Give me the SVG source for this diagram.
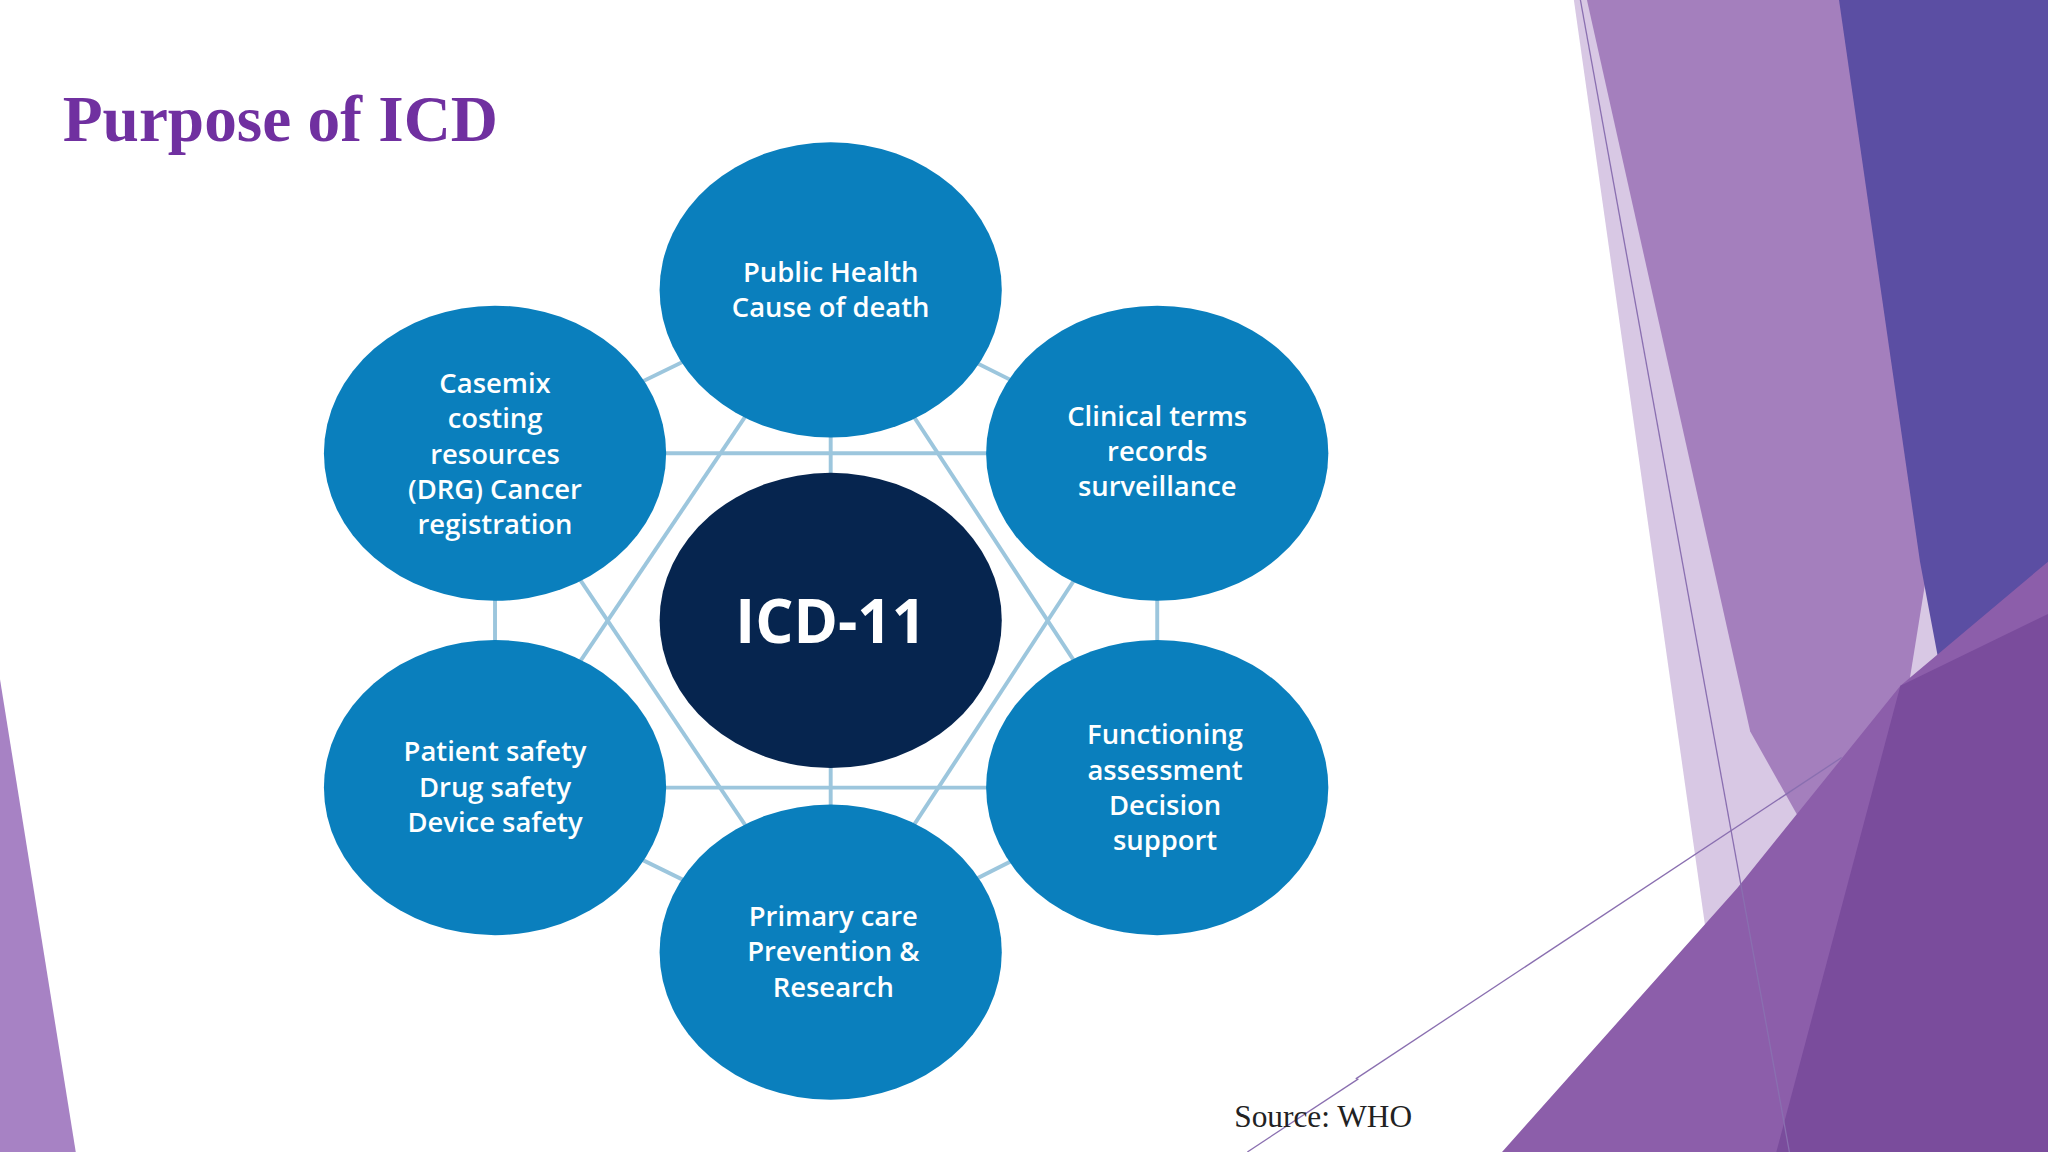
<svg xmlns="http://www.w3.org/2000/svg" width="2048" height="1152" viewBox="0 0 2048 1152">
<style>
.n{fill:#0a7fbd}
.t{font-family:"Open Sans","DejaVu Sans",sans-serif;font-size:21px;font-weight:600;fill:#fff;text-anchor:middle}
.c line{stroke:#9cc6dd;stroke-width:3}
</style>
<rect width="2048" height="1152" fill="#fff"/>
<g transform="scale(1.30612)">
<g id="bg">
<polygon points="1205,0 1568,0 1568,882 1330,882" fill="#d8c8e4"/>
<polygon points="1215,0 1410,0 1475,440 1430,720 1340,560" fill="#a47fbd"/>
<polygon points="1408,0 1568,0 1568,470 1500,590 1470,430" fill="#5b4ea3"/>
<polygon points="1150,882 1330,680 1455,525 1568,430 1568,882" fill="#8c5eaa"/>
<polygon points="1360,882 1455,525 1568,470 1568,882" fill="#7a4c9c"/>
<polygon points="0,520 0,882 58,882" fill="#a782c4"/>
<line x1="1210" y1="0" x2="1370" y2="882" stroke="#8a6fb0" stroke-width="1"/>
<line x1="1038" y1="826" x2="1410" y2="580" stroke="#8a6fb0" stroke-width="1"/>
<line x1="955" y1="882" x2="1040" y2="826" stroke="#8a6fb0" stroke-width="1"/>
</g>
<text x="48" y="108" font-family="Liberation Serif,serif" font-weight="bold" font-size="50" fill="#7030a0">Purpose of ICD</text>
<g class="c" id="connectors">
<line x1="636" y1="222" x2="379" y2="603"/>
<line x1="636" y1="222" x2="886" y2="603"/>
<line x1="379" y1="347" x2="636" y2="729"/>
<line x1="886" y1="347" x2="636" y2="729"/>
<line x1="379" y1="347" x2="886" y2="347"/>
<line x1="379" y1="603" x2="886" y2="603"/>
<line x1="636" y1="222" x2="379" y2="347"/>
<line x1="636" y1="222" x2="886" y2="347"/>
<line x1="379" y1="347" x2="379" y2="603"/>
<line x1="886" y1="347" x2="886" y2="603"/>
<line x1="636" y1="729" x2="379" y2="603"/>
<line x1="636" y1="729" x2="886" y2="603"/>
<line x1="636" y1="222" x2="636" y2="729"/>
</g>
<g id="center"><ellipse cx="636" cy="475" rx="131" ry="113" fill="#06254f"/><text x="636" y="492" font-family="Open Sans,DejaVu Sans,sans-serif" font-weight="bold" font-size="46" fill="#fff" text-anchor="middle">ICD-11</text></g>
<g id="top"><ellipse class="n" cx="636" cy="222" rx="131" ry="113"/><text class="t" x="636" y="216">Public Health</text><text class="t" x="636" y="243">Cause of death</text></g>
<g id="ul"><ellipse class="n" cx="379" cy="347" rx="131" ry="113"/><text class="t" x="379" y="301">Casemix</text><text class="t" x="379" y="328">costing</text><text class="t" x="379" y="355">resources</text><text class="t" x="379" y="382">(DRG) Cancer</text><text class="t" x="379" y="409">registration</text></g>
<g id="ur"><ellipse class="n" cx="886" cy="347" rx="131" ry="113"/><text class="t" x="886" y="326">Clinical terms</text><text class="t" x="886" y="353">records</text><text class="t" x="886" y="380">surveillance</text></g>
<g id="ll"><ellipse class="n" cx="379" cy="603" rx="131" ry="113"/><text class="t" x="379" y="583">Patient safety</text><text class="t" x="379" y="610">Drug safety</text><text class="t" x="379" y="637">Device safety</text></g>
<g id="lr"><ellipse class="n" cx="886" cy="603" rx="131" ry="113"/><text class="t" x="892" y="570">Functioning</text><text class="t" x="892" y="597">assessment</text><text class="t" x="892" y="624">Decision</text><text class="t" x="892" y="651">support</text></g>
<g id="bottom"><ellipse class="n" cx="636" cy="729" rx="131" ry="113"/><text class="t" x="638" y="709">Primary care</text><text class="t" x="638" y="736">Prevention &amp;</text><text class="t" x="638" y="763">Research</text></g>
<text x="945" y="863" font-family="Liberation Serif,serif" font-size="24" fill="#222">Source: WHO</text>
</g>
</svg>
